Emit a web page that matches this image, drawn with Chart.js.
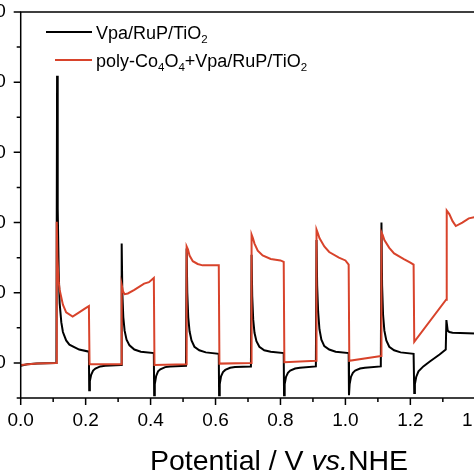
<!DOCTYPE html>
<html>
<head>
<meta charset="utf-8">
<script src="https://cdn.jsdelivr.net/npm/chart.js@4.4.0/dist/chart.umd.min.js"></script>
<style>
  html, body { margin: 0; padding: 0; overflow: hidden; background: #fff; width: 474px; height: 474px; }
  #wrap { position: absolute; left: -50px; top: 0; width: 540px; height: 474px; }
</style>
</head>
<body>
<div id="wrap"><canvas id="c"></canvas></div>
<script>
// Vpa/RuP/TiO2 (black)
const blackX = [0, 0.02, 0.05, 0.108, 0.11, 0.112, 0.114, 0.117, 0.12, 0.125, 0.13, 0.14, 0.15, 0.18, 0.21, 0.211, 0.213, 0.217, 0.223, 0.23, 0.245, 0.26, 0.309,
  0.311, 0.313, 0.316, 0.32, 0.326, 0.335, 0.35, 0.37, 0.41, 0.411, 0.413, 0.417, 0.423, 0.43, 0.445, 0.46, 0.509,
  0.511, 0.513, 0.516, 0.52, 0.526, 0.535, 0.55, 0.57, 0.61, 0.611, 0.613, 0.617, 0.623, 0.63, 0.645, 0.66, 0.709,
  0.711, 0.713, 0.716, 0.72, 0.726, 0.735, 0.75, 0.77, 0.81, 0.811, 0.813, 0.817, 0.823, 0.83, 0.845, 0.86, 0.909,
  0.911, 0.913, 0.916, 0.92, 0.926, 0.935, 0.95, 0.97, 1.01, 1.011, 1.013, 1.017, 1.023, 1.03, 1.045, 1.06, 1.109,
  1.111, 1.113, 1.116, 1.12, 1.126, 1.135, 1.15, 1.17, 1.21, 1.212, 1.214, 1.218, 1.225, 1.24, 1.26, 1.29, 1.309,
  1.311, 1.315, 1.32, 1.33, 1.4];
const blackY = [-0.4, -0.2, -0.1, 0, 0, 40.9, 22, 13, 8.5, 5.8, 4.4, 3.2, 2.6, 1.9, 1.6, -3.9, -2.6, -1.7, -1.1, -0.8, -0.5, -0.4, -0.3,
  17, 10, 6.5, 4.6, 3.3, 2.5, 1.9, 1.6, 1.4, -4.6, -3, -1.9, -1.2, -0.9, -0.6, -0.5, -0.4,
  16.3, 10, 6.5, 4.5, 3.2, 2.3, 1.8, 1.5, 1.3, -4.6, -3, -1.9, -1.3, -1, -0.7, -0.6, -0.5,
  15.4, 9.5, 6.2, 4.3, 3.1, 2.3, 1.8, 1.6, 1.4, -4.6, -3, -2, -1.4, -1.1, -0.8, -0.7, -0.5,
  17.5, 11, 7.3, 4.8, 3.3, 2.4, 1.9, 1.6, 1.4, -4.6, -3, -2, -1.4, -1.1, -0.8, -0.7, -0.5,
  20, 11, 6.8, 4.6, 3.2, 2.3, 1.8, 1.5, 1.3, -4.3, -3, -2, -1.2, -0.5, 0.2, 1.2, 1.9,
  6.1, 4.6, 4.4, 4.3, 4.2];

// poly-Co4O4+Vpa/RuP/TiO2 (red)
const redX = [0, 0.05, 0.11, 0.111, 0.113, 0.117, 0.12, 0.13, 0.14, 0.16, 0.18, 0.2, 0.21, 0.212, 0.31,
  0.311, 0.315, 0.32, 0.33, 0.35, 0.38, 0.395, 0.41, 0.412, 0.51,
  0.511, 0.515, 0.52, 0.53, 0.545, 0.56, 0.61, 0.612, 0.71,
  0.711, 0.715, 0.72, 0.73, 0.745, 0.77, 0.8, 0.81, 0.812, 0.91,
  0.911, 0.915, 0.92, 0.935, 0.95, 0.98, 1.0, 1.01, 1.012, 1.11,
  1.111, 1.115, 1.12, 1.135, 1.15, 1.18, 1.2, 1.21, 1.212, 1.31,
  1.312, 1.32, 1.33, 1.34, 1.36, 1.38, 1.4];
const redY = [-0.3, -0.1, 0, 20.1, 15, 11.5, 10.4, 8.3, 7.2, 6.6, 7.2, 7.8, 8.1, -0.2, -0.2,
  11.1, 10.2, 9.8, 9.9, 10.4, 11.3, 11.5, 12.1, -0.3, -0.2,
  16.6, 16.2, 15.3, 14.5, 14.1, 13.9, 13.9, -0.1, 0,
  18.3, 17.8, 17, 16, 15.3, 14.8, 14.6, 14.4, 0.1, 0.3,
  19, 18.5, 17.8, 16.6, 15.8, 15, 14.6, 14, 0.3, 1,
  18.6, 18.2, 17.5, 16.4, 15.6, 14.8, 14.3, 14, 3, 9,
  21.7, 21.2, 20.2, 19.5, 20, 20.6, 20.8];

const xTickLabels = ['0.0', '0.2', '0.4', '0.6', '0.8', '1.0', '1.2', '1.4'];
const yTickLabels = ['0', '10', '20', '30', '40', '50'];

const pts = (xs, ys) => xs.map((x, i) => ({ x, y: ys[i] }));
const FONT = '"Liberation Sans", Arial, sans-serif';

const decor = {
  id: 'decor',
  afterDraw(chart) {
    const ctx = chart.ctx, xs = chart.scales.x, ys = chart.scales.y, a = chart.chartArea;
    ctx.save();
    ctx.strokeStyle = '#000';
    ctx.lineWidth = 1.5;
    // frame
    ctx.beginPath();
    ctx.moveTo(a.left, a.bottom); ctx.lineTo(a.left, a.top); ctx.lineTo(a.right, a.top);
    ctx.moveTo(a.left, a.bottom); ctx.lineTo(a.right, a.bottom);
    ctx.stroke();
    // ticks (outward)
    ctx.beginPath();
    for (let i = 0; i <= 14; i++) {
      const px = xs.getPixelForValue(i / 10);
      ctx.moveTo(px, a.bottom); ctx.lineTo(px, a.bottom + (i % 2 ? 4 : 7));
    }
    for (let i = -5; i <= 50; i += 5) {
      const py = ys.getPixelForValue(i);
      ctx.moveTo(a.left, py); ctx.lineTo(a.left - (i % 10 ? 4 : 7), py);
    }
    ctx.stroke();
    // tick labels
    ctx.fillStyle = '#000';
    ctx.font = '19px ' + FONT;
    ctx.textAlign = 'center'; ctx.textBaseline = 'middle';
    xTickLabels.forEach(t => ctx.fillText(t, xs.getPixelForValue(parseFloat(t)), 421));
    ctx.textAlign = 'right';
    yTickLabels.forEach(t => ctx.fillText(t, a.left - 15, ys.getPixelForValue(Number(t))));
    // legend
    const leg = (y, color, parts, x0, x1) => {
      ctx.strokeStyle = color; ctx.lineWidth = 2;
      ctx.beginPath(); ctx.moveTo(x0, y); ctx.lineTo(x1, y); ctx.stroke();
      let x = x1 + 4;
      ctx.fillStyle = '#000'; ctx.textBaseline = 'alphabetic'; ctx.textAlign = 'left';
      parts.forEach(([t, sub]) => {
        ctx.font = (sub ? '11.5px ' : '18px ') + FONT;
        ctx.fillText(t, x, y + (sub ? 11 : 7));
        x += ctx.measureText(t).width;
      });
    };
    const off = 50;
    leg(32, '#000', [['Vpa/RuP/TiO'], ['2', 1]], 46 + off, 92 + off);
    leg(60, '#d8432b', [['poly-Co'], ['4', 1], ['O'], ['4', 1], ['+Vpa/RuP/TiO'], ['2', 1]], 55 + off, 92 + off);
    // axis title
    const segs = [['Potential / V ', false], ['vs.', true], ['NHE', false]];
    let w = 0;
    segs.forEach(([t, it]) => { ctx.font = (it ? 'italic ' : '') + '28.5px ' + FONT; w += ctx.measureText(t).width; });
    let x = 279 + off - w / 2;
    segs.forEach(([t, it]) => {
      ctx.font = (it ? 'italic ' : '') + '28.5px ' + FONT;
      ctx.fillText(t, x, 470);
      x += ctx.measureText(t).width;
    });
    ctx.restore();
  }
};

new Chart(document.getElementById('c'), {
  type: 'line',
  data: {
    datasets: [
      { label: 'Vpa/RuP/TiO2', data: pts(blackX, blackY), borderColor: '#000', borderWidth: 2, order: 1 },
      { label: 'poly-Co4O4+Vpa/RuP/TiO2', data: pts(redX, redY), borderColor: '#d8432b', borderWidth: 2, order: 0 }
    ]
  },
  options: {
    responsive: true,
    maintainAspectRatio: false,
    animation: false,
    elements: { point: { radius: 0 }, line: { tension: 0 } },
    layout: { padding: { top: 12, right: 14.7, left: 0, bottom: 0 } },
    plugins: { legend: { display: false }, tooltip: { enabled: false } },
    scales: {
      x: {
        type: 'linear', min: 0, max: 1.4,
        grid: { display: false },
        border: { display: false },
        ticks: { display: false },
        afterFit: s => { s.height = 76; }
      },
      y: {
        min: -5, max: 50,
        grid: { display: false },
        border: { display: false },
        ticks: { display: false },
        afterFit: s => { s.width = 70.7; }
      }
    }
  },
  plugins: [decor]
});
</script>
</body>
</html>
